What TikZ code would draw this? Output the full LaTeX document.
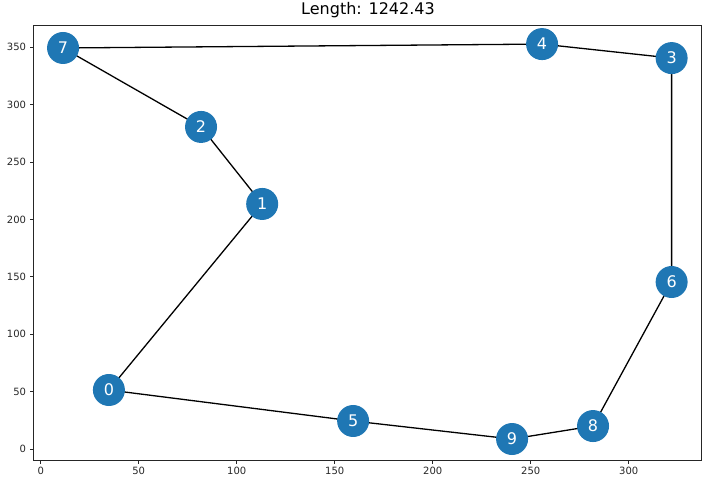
\documentclass[tikz,border=0pt]{standalone}
\usepackage{fontspec}
\setmainfont{DejaVu Sans}
\definecolor{tabblue}{HTML}{1F77B4}
\definecolor{spine}{HTML}{262626}
\pgfdeclarelayer{background}
\pgfsetlayers{background,main}
\begin{document}
\begin{tikzpicture}[
  city/.style={circle, fill=tabblue, draw=none, minimum size=32pt, inner sep=0pt, text=white, font=\fontsize{16}{16}\selectfont},
  edge/.style={draw=black, line width=1.3pt},
  tick/.style={draw=spine, line width=0.8pt},
  ticklab/.style={font=\fontsize{10}{10}\selectfont, text=spine, inner sep=0pt}
]
\useasboundingbox (0,0) rectangle (710pt,484pt);
\begin{scope}[shift={(40.7pt,35pt)}, x=1.96pt, y=1.1477pt]
  % axes frame
  \draw[tick] (-3.8,-9.6) rectangle (337.2,369.4);
  \foreach \v in {0,50,...,300} {
    \draw[tick] (\v,-9.6) -- ++(0,-3.5pt);
    \node[ticklab, anchor=north] at ([yshift=-7pt]\v,-9.6) {\v};
  }
  \foreach \v in {0,50,...,350} {
    \draw[tick] (-3.8,\v) -- ++(-3.5pt,0);
    \node[ticklab, anchor=east] at ([xshift=-7pt]-3.8,\v) {\v};
  }
  % cities
  \node[city] (c0) at (34.8,51.4) {0};
  \node[city] (c1) at (113,213.5) {1};
  \node[city] (c2) at (81.8,280.6) {2};
  \node[city] (c3) at (321.9,340.6) {3};
  \node[city] (c4) at (255.8,352.8) {4};
  \node[city] (c5) at (159.4,24.4) {5};
  \node[city] (c6) at (321.9,145.5) {6};
  \node[city] (c7) at (11.4,349.4) {7};
  \node[city] (c8) at (281.8,20) {8};
  \node[city] (c9) at (240.5,8.7) {9};
\end{scope}
\begin{pgfonlayer}{background}
\path[edge] (c0.center) -- (c1.center) -- (c2.center) -- (c7.center) -- (c4.center) -- (c3.center) -- (c6.center) -- (c8.center) -- (c9.center) -- (c5.center) -- (c0.center);
\end{pgfonlayer}
\node[font=\fontsize{16}{16}\selectfont, text=black, anchor=base] (title) at (368pt,469pt) {Length: 1242.43};
\end{tikzpicture}
\end{document}
